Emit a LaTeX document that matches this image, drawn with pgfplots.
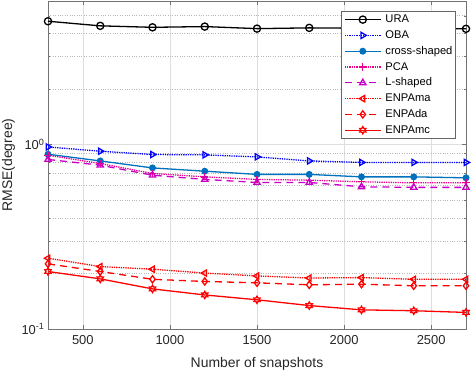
\documentclass[border=0pt]{standalone}
\usepackage{pgfplots}
\pgfplotsset{compat=1.18}
\usepackage{fontspec}
\setmainfont{Liberation Sans}
\definecolor{mblue}{rgb}{0,0.447,0.741}
\definecolor{lpurp}{rgb}{0.78,0,0.78}
\pgfdeclareplotmark{hexagram}{%
  \pgfpathmoveto{\pgfpointpolar{90}{\pgfplotmarksize}}%
  \pgfpathlineto{\pgfpointpolar{120}{0.577\pgfplotmarksize}}%
  \pgfpathlineto{\pgfpointpolar{150}{\pgfplotmarksize}}%
  \pgfpathlineto{\pgfpointpolar{180}{0.577\pgfplotmarksize}}%
  \pgfpathlineto{\pgfpointpolar{210}{\pgfplotmarksize}}%
  \pgfpathlineto{\pgfpointpolar{240}{0.577\pgfplotmarksize}}%
  \pgfpathlineto{\pgfpointpolar{270}{\pgfplotmarksize}}%
  \pgfpathlineto{\pgfpointpolar{300}{0.577\pgfplotmarksize}}%
  \pgfpathlineto{\pgfpointpolar{330}{\pgfplotmarksize}}%
  \pgfpathlineto{\pgfpointpolar{0}{0.577\pgfplotmarksize}}%
  \pgfpathlineto{\pgfpointpolar{30}{\pgfplotmarksize}}%
  \pgfpathlineto{\pgfpointpolar{60}{0.577\pgfplotmarksize}}%
  \pgfpathclose
  \pgfusepathqstroke}
\begin{document}
\begin{tikzpicture}
\begin{axis}[
  name=ax,
  scale only axis, width=418bp, height=328bp,
  ymode=log, xmin=300, xmax=2700, ymin=0.1, ymax=6,
  xtick={500,1000,1500,2000,2500},
  xticklabels={500,1000,1500,2000,2500},
  ytick={0.1,1}, yticklabels={10\textsuperscript{-1},10\textsuperscript{0}},
  minor ytick={0.2,0.3,0.4,0.5,0.6,0.7,0.8,0.9,2,3,4,5},
  tick label style={font=\fontsize{13}{15}\selectfont, color=black!85},
  xticklabel style={yshift=-2.5bp},
  xlabel={Number of snapshots}, ylabel={RMSE(degree)},
  label style={font=\fontsize{14}{16}\selectfont, color=black!85},
  xlabel style={at={(axis description cs:0.5,0)}, anchor=north, inner sep=0pt, yshift=-28.5bp},
  ylabel style={at={(axis description cs:-0.1105,0.5)}, anchor=north, inner sep=0pt},
  grid=both,
  major grid style={draw=black!13, line width=0.5pt},
  minor grid style={draw=black!28, dotted, line width=0.5pt},
  axis line style={draw=black!55, line width=0.6pt},
  tick style={draw=black!55},
  tick align=inside, major tick length=4bp, minor tick length=2.5bp,
  legend style={at={(0.974,0.9695)}, anchor=north east, font=\fontsize{11.2}{13}\selectfont,
     draw=black!60, fill=white, inner xsep=2.5bp, inner ysep=3bp, row sep=5bp,
     nodes={inner sep=0pt, text height=8.5bp, text depth=2.3bp}, column sep=4bp},
  legend cell align=left,
  legend image code/.code={\draw[mark repeat=2,mark phase=2] plot coordinates {(0bp,0bp) (18bp,0bp) (36bp,0bp)};},
  every axis plot/.append style={line width=1.3bp, mark size=3.6bp},
]
\addplot[black, mark=o, mark options={solid, line width=1.3bp}] coordinates {
(300,4.66) (600,4.40) (900,4.32) (1200,4.36) (1500,4.25) (1800,4.29) (2100,4.27) (2400,4.25) (2700,4.24)};
\addlegendentry{URA}
\addplot[blue, densely dotted, mark=triangle, mark options={solid, rotate=-90, line width=1.3bp}] coordinates {
(300,0.97) (600,0.92) (900,0.883) (1200,0.879) (1500,0.857) (1800,0.815) (2100,0.80) (2400,0.80) (2700,0.80)};
\addlegendentry{OBA}
\addplot[mblue, mark=*, mark size=2.8bp, mark options={solid}] coordinates {
(300,0.886) (600,0.815) (900,0.747) (1200,0.717) (1500,0.689) (1800,0.689) (2100,0.668) (2400,0.668) (2700,0.66)};
\addlegendentry{cross-shaped}
\addplot[magenta, densely dotted, mark=+, mark options={solid, line width=1.3bp}] coordinates {
(300,0.875) (600,0.789) (900,0.697) (1200,0.668) (1500,0.647) (1800,0.641) (2100,0.628) (2400,0.62) (2700,0.62)};
\addlegendentry{PCA}
\addplot[lpurp, dash pattern=on 7bp off 5bp, mark=triangle, mark options={solid, line width=1.3bp}] coordinates {
(300,0.83) (600,0.773) (900,0.682) (1200,0.647) (1500,0.623) (1800,0.623) (2100,0.59) (2400,0.586) (2700,0.586)};
\addlegendentry{L-shaped}
\addplot[red, densely dotted, mark=triangle, mark options={solid, rotate=90, line width=1.3bp}] coordinates {
(300,0.242) (600,0.218) (900,0.211) (1200,0.201) (1500,0.194) (1800,0.189) (2100,0.190) (2400,0.186) (2700,0.186)};
\addlegendentry{ENPAma}
\addplot[red, dash pattern=on 7bp off 5bp, mark=diamond, mark options={solid, line width=1.3bp}] coordinates {
(300,0.2255) (600,0.205) (900,0.186) (1200,0.181) (1500,0.178) (1800,0.1736) (2100,0.175) (2400,0.1715) (2700,0.1715)};
\addlegendentry{ENPAda}
\addplot[red, mark=hexagram, mark options={solid, line width=1.3bp}] coordinates {
(300,0.205) (600,0.187) (900,0.165) (1200,0.153) (1500,0.144) (1800,0.134) (2100,0.127) (2400,0.1256) (2700,0.123)};
\addlegendentry{ENPAmc}
\end{axis}
\pgfresetboundingbox
\path[use as bounding box] ([shift={(-48bp,-41bp)}]ax.south west) rectangle ([shift={(8bp,1bp)}]ax.north east);
\end{tikzpicture}
\end{document}
